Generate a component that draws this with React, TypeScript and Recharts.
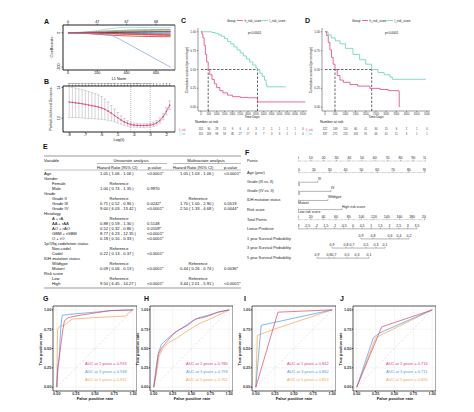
import React from "react";
import {
  LineChart,
  ComposedChart,
  Line,
  Scatter,
  XAxis,
  YAxis,
  CartesianGrid,
  ReferenceLine,
  ReferenceArea,
  ErrorBar,
} from "recharts";

const FONT = "'Liberation Sans', Arial, Helvetica, sans-serif";
const RED = "#e0466e";
const GREEN = "#5fd6b2";
const BLUE = "#4aa0e4";
const ORANGE = "#f2a552";

// ---------- A: lasso coefficient paths ----------
const l1Norm = [0, 50, 100, 150, 200, 250, 300, 350, 400, 450, 500, 550, 600, 650, 700];
const dfAtL1 = [0, 200, 400, 600];
const dfLabels = ["0", "47", "67", "68"];
const coefBlue = [0, -2, -5, -8, -12, -17, -25, -55, -90, -125, -160, -195, -230, -265, -300];
const coefCyan = [0, 2, 5, 10, 18, 28, 38, 44, 46, 47, 46, 45, 44, 44, 43];
const coefGreen = [0, 1, 3, 6, 10, 14, 17, 20, 22, 24, 25, 26, 27, 28, 28];
const coefRed = [0, -1, -2, -4, -6, -8, -10, -12, -14, -16, -18, -20, -22, -24, -25];
const coefPink = [0, 1, 2, 4, 6, 8, 10, 12, 14, 16, 18, 20, 22, 23, 24];
const coefBlack = [0, 0, 1, 1, 2, 2, 3, 3, 4, 4, 5, 5, 6, 6, 6];
const coefYellow = [0, -1, -1, -2, -3, -5, -7, -9, -11, -13, -15, -16, -17, -18, -18];
const coefMagenta = [0, 0, -1, -2, -3, -4, -6, -8, -10, -12, -14, -15, -16, -17, -18];
const coefGray = [0, 1, 2, 3, 4, 6, 8, 10, 11, 12, 12, 12, 12, 12, 12];
const coefDarkRed = [0, -2, -5, -9, -14, -18, -22, -25, -28, -30, -32, -33, -34, -35, -35];
const coefGreen3 = [0, 0, 1, 2, 2, 3, 4, 5, 6, 7, 8, 9, 10, 11, 12];
const coefNavy = [0, 0, 0, -1, -1, -2, -3, -4, -5, -6, -7, -8, -9, -9, -10];

const coefPaths: [string, string, number[]][] = [
  ["cyan", "#8ecae6", coefCyan],
  ["green", "#4caf50", coefGreen],
  ["pink", "#f06292", coefPink],
  ["gray", "#9e9e9e", coefGray],
  ["green3", "#7cb342", coefGreen3],
  ["black", "#000000", coefBlack],
  ["navy", "#3949ab", coefNavy],
  ["yellow", "#fbc02d", coefYellow],
  ["magenta", "#d81b60", coefMagenta],
  ["red", "#e53935", coefRed],
  ["darkred", "#b71c1c", coefDarkRed],
  ["blue", "#7e9fd8", coefBlue],
];

const lassoData = l1Norm.map((x, i) => {
  const row: Record<string, number> = { x };
  coefPaths.forEach(([k, , v]) => (row[k] = v[i]));
  return row;
});

// ---------- B: cross-validated deviance ----------
const logLambda = [-8.0, -7.8, -7.6, -7.4, -7.2, -7.0, -6.8, -6.6, -6.4, -6.2, -6.0, -5.8, -5.6, -5.4, -5.2, -5.0, -4.8, -4.6, -4.4, -4.2, -4.0, -3.8, -3.6, -3.4, -3.2, -3.0, -2.8, -2.6, -2.4, -2.2, -2.0, -1.8];
const deviance = [13.05, 13.03, 13.0, 12.97, 12.94, 12.9, 12.86, 12.82, 12.78, 12.73, 12.67, 12.58, 12.46, 12.33, 12.18, 12.03, 11.88, 11.76, 11.66, 11.59, 11.55, 11.53, 11.52, 11.52, 11.53, 11.55, 11.6, 11.7, 11.85, 12.1, 12.45, 12.85];
const devianceErr = [1.0, 0.98, 0.96, 0.94, 0.92, 0.9, 0.88, 0.85, 0.82, 0.79, 0.75, 0.68, 0.6, 0.5, 0.42, 0.34, 0.27, 0.22, 0.18, 0.15, 0.13, 0.12, 0.12, 0.12, 0.12, 0.13, 0.14, 0.15, 0.17, 0.2, 0.24, 0.28];
const nonzeroCount = [68, 68, 68, 67, 67, 66, 66, 65, 64, 63, 61, 59, 57, 54, 50, 46, 41, 36, 33, 29, 26, 22, 19, 17, 13, 10, 8, 6, 4, 3, 2, 1];
const lambdaMin = -4.2;
const lambda1se = -3.0;

const cvData = logLambda.map((x, i) => ({ x, dev: deviance[i], err: devianceErr[i] }));

// ---------- C / D: Kaplan-Meier ----------
const kmTicksC = [0, 500, 1000, 1500, 2000, 2500, 3000, 3500, 4000, 4500, 5000, 5500, 6000, 6500];
const timeHighC = [0, 60, 120, 200, 280, 360, 460, 560, 700, 850, 1000, 1200, 1400, 1700, 2000, 2500, 3000, 3550, 3600, 6650];
const survHighC = [1, 0.97, 0.92, 0.82, 0.7, 0.6, 0.5, 0.43, 0.37, 0.31, 0.26, 0.22, 0.19, 0.16, 0.14, 0.13, 0.125, 0.12, 0.07, 0.07];
const timeLowC = [0, 500, 700, 900, 1100, 1300, 1500, 1700, 1900, 2100, 2300, 2500, 2700, 2900, 3100, 3300, 3500, 3600, 3750, 3900, 4050, 4150, 4200, 5400];
const survLowC = [1, 1, 0.99, 0.98, 0.96, 0.94, 0.91, 0.87, 0.84, 0.8, 0.76, 0.72, 0.68, 0.64, 0.6, 0.56, 0.52, 0.5, 0.45, 0.41, 0.36, 0.3, 0.27, 0.27];
const riskHighC = [352, 90, 28, 15, 9, 6, 4, 3, 2, 1, 1, 1, 1, 0];
const riskLowC = [351, 249, 99, 59, 38, 27, 17, 8, 7, 3, 3, 2, 1, 0];
const medianHighC = 460;
const medianLowC = 3600;

const kmTicksD = [0, 500, 1000, 1500, 2000, 2500, 3000, 3500, 4000, 4500, 5000];
const timeHighD = [0, 80, 160, 240, 320, 400, 490, 600, 735, 900, 1225, 1600, 2200, 2700, 3100, 3630, 3640];
const survHighD = [1, 0.95, 0.86, 0.76, 0.66, 0.57, 0.5, 0.42, 0.36, 0.33, 0.3, 0.28, 0.25, 0.235, 0.22, 0.2, 0.0];
const timeLowD = [0, 150, 300, 500, 735, 1000, 1370, 1700, 2000, 2290, 2600, 2900, 3190, 3300, 4950];
const survLowD = [1, 0.96, 0.92, 0.88, 0.84, 0.78, 0.7, 0.63, 0.57, 0.5, 0.46, 0.43, 0.4, 0.37, 0.37];
const riskHighD = [322, 169, 110, 66, 41, 30, 15, 6, 2, 1, 0];
const riskLowD = [337, 271, 213, 158, 91, 66, 41, 11, 3, 1, 1];
const medianHighD = 490;
const medianLowD = 2290;

const survTicks = [0, 0.25, 0.5, 0.75, 1];

// ---------- E: Cox regression table ----------
const tableVars = ["Age", "Gender", "Female", "Male", "Grade", "Grade II", "Grade III", "Grade IV", "Histology", "A + rA", "AA + rAA", "AO + rAO", "GBM + rGBM", "O + rO", "1p/19q codeletion status", "Non-codel", "Codel", "IDH mutation status", "Wildtype", "Mutant", "Risk score", "Low", "High"];
const tableIndent = [0, 0, 1, 1, 0, 1, 1, 1, 0, 1, 1, 1, 1, 1, 0, 1, 1, 0, 1, 1, 0, 1, 1];
const uniHR = ["1.05 ( 1.06 - 1.06 )", "", "Reference", "1.00 ( 0.74 - 1.35 )", "", "Reference", "0.71 ( 0.52 - 0.96 )", "9.00 ( 6.03 - 13.42 )", "", "Reference", "0.88 ( 0.59 - 1.30 )", "0.52 ( 0.32 - 0.86 )", "8.77 ( 6.23 - 12.35 )", "0.18 ( 0.10 - 0.33 )", "", "Reference", "0.22 ( 0.13 - 0.37 )", "", "Reference", "0.09 ( 0.06 - 0.13 )", "", "Reference", "9.50 ( 6.45 - 14.27 )"];
const uniP = ["<0.0001*", "", "", "0.9970", "", "", "0.0242*", "<0.0001*", "", "", "0.5148", "0.0109*", "<0.0001*", "<0.0001*", "", "", "<0.0001*", "", "", "<0.0001*", "", "", "<0.0001*"];
const multiHR = ["1.05 ( 1.03 - 1.06 )", "", "", "", "", "Reference", "1.70 ( 1.00 - 2.90 )", "2.50 ( 1.33 - 4.68 )", "", "", "", "", "", "", "", "", "", "", "Reference", "0.44 ( 0.26 - 0.74 )", "", "Reference", "3.44 ( 2.01 - 5.91 )"];
const multiP = ["<0.0001*", "", "", "", "", "", "0.0519", "0.0044*", "", "", "", "", "", "", "", "", "", "", "", "0.0036*", "", "", "<0.0001*"];

// ---------- F: nomogram ----------
const nomoRows = ["Points", "Age (year)", "Grade (III vs. II)", "Grade (IV vs. II)", "IDH mutation status", "Risk score", "Total Points", "Linear Predictor", "1 year Survival Probability", "3 year Survival Probability", "5 year Survival Probability"];
const nomoRowY = [0, 1.2, 2.2, 3.15, 4.1, 5.05, 6.1, 7.05, 8.1, 9.05, 10.1];
const pointsValues = [0, 10, 20, 30, 40, 50, 60, 70, 80, 90, 100];
const ageValues = [10, 20, 30, 40, 50, 60, 70, 80, 90];
const agePointsPerYear = 99 / 80;
const gradeIIIPoints = 15.6;
const gradeIVPoints = 25.8;
const idhWildtypePoints = 23.4;
const highRiskPoints = 34.4;
const totalValues = [0, 20, 40, 60, 80, 100, 120, 140, 160, 180, 200];
const totalScale = 0.495;
const lpValues = [-3, -2.5, -2, -1.5, -1, -0.5, 0, 0.5, 1, 1.5, 2, 2.5, 3, 3.5];
const lpScale = 14.3;
const surv1Labels = ["0.9", "0.8", "0.6", "0.4", "0.2"];
const surv1Pos = [49.2, 58.6, 71.9, 78.9, 86.7];
const surv3Labels = ["0.9", "0.8", "0.7", "0.5", "0.3", "0.1"];
const surv3Pos = [26.6, 37.5, 42.2, 53.1, 60.9, 68];
const surv5Labels = ["0.9", "0.8", "0.7", "0.5", "0.3", "0.1"];
const surv5Pos = [14.8, 24.2, 28.1, 38.3, 46.1, 55.5];

// ---------- G-J: time-dependent ROC ----------
const rocTicks = [0, 0.25, 0.5, 0.75, 1];
const rocG1 = [[0, 0], [0.005, 0.1], [0.02, 0.3], [0.04, 0.45], [0.06, 0.6], [0.08, 0.75], [0.1, 0.86], [0.15, 0.9], [0.3, 0.93], [0.5, 0.96], [0.7, 0.99], [1, 1]];
const rocG3 = [[0, 0], [0.01, 0.25], [0.03, 0.35], [0.05, 0.75], [0.07, 0.93], [0.25, 0.95], [0.5, 0.97], [0.7, 0.99], [1, 1]];
const rocG5 = [[0, 0], [0.01, 0.75], [0.04, 0.79], [0.1, 0.8], [0.2, 0.88], [0.5, 0.9], [0.9, 0.92], [0.95, 0.97], [1, 1]];
const rocH1 = [[0, 0], [0.03, 0.2], [0.06, 0.42], [0.1, 0.5], [0.15, 0.56], [0.2, 0.62], [0.27, 0.7], [0.35, 0.75], [0.45, 0.8], [0.55, 0.88], [0.65, 0.9], [0.75, 0.93], [0.85, 0.97], [1, 1]];
const rocH3 = [[0, 0], [0.03, 0.25], [0.06, 0.44], [0.1, 0.55], [0.15, 0.6], [0.22, 0.66], [0.3, 0.72], [0.4, 0.78], [0.5, 0.85], [0.6, 0.9], [0.72, 0.93], [0.85, 0.97], [1, 1]];
const rocH5 = [[0, 0], [0.04, 0.2], [0.07, 0.4], [0.12, 0.5], [0.2, 0.58], [0.3, 0.63], [0.4, 0.7], [0.5, 0.76], [0.6, 0.82], [0.72, 0.87], [0.85, 0.93], [1, 1]];
const rocI1 = [[0, 0], [0.29, 0.97], [1, 1]];
const rocI3 = [[0, 0], [0.07, 0.8], [1, 1]];
const rocI5 = [[0, 0], [0.02, 0.67], [0.3, 0.77], [1, 1]];
const rocJ1 = [[0, 0], [0.33, 0.78], [1, 1]];
const rocJ3 = [[0, 0], [0.22, 0.64], [0.3, 0.7], [1, 1]];
const rocJ5 = [[0, 0], [0.25, 0.64], [1, 1]];
const aucG = ["0.933", "0.948", "0.911"];
const aucH = ["0.780", "0.793", "0.762"];
const aucI = ["0.842", "0.862", "0.813"];
const aucJ = ["0.716", "0.711", "0.690"];
const aucYears = [1, 3, 5];
const rocColors = [RED, BLUE, ORANGE];
const diagonal = [[0, 0], [1, 1]];

const toXY = (t: number[], s: number[]) => t.map((v, i) => ({ t: v, s: s[i] }));
const toRoc = (pts: number[][]) => pts.map(([fpr, tpr]) => ({ fpr, tpr }));

const RotTick = (props: any) => {
  const { x, y, payload } = props;
  return (
    <text x={x} y={y} transform={`rotate(-90 ${x} ${y})`} textAnchor="middle" fontSize={3.6} fill="#000" fontFamily={FONT}>
      {payload.value}
    </text>
  );
};

function LassoPaths() {
  return (
    <div style={{ position: "absolute", left: 40, top: 10 }}>
      <LineChart width={140} height={75} data={lassoData} margin={{ top: 0, right: 5, bottom: 0, left: 0 }}>
        <XAxis xAxisId="b" dataKey="x" type="number" domain={[-34, 730]} ticks={[0, 200, 400, 600]} height={15} tickSize={1.5} tickMargin={0} tick={{ fontSize: 3.6, fill: "#000" }} stroke="#000" strokeWidth={0.5} />
        <XAxis xAxisId="t" orientation="top" dataKey="x" type="number" domain={[-34, 730]} ticks={dfAtL1} tickFormatter={(v: number) => dfLabels[dfAtL1.indexOf(v)]} height={15} tickSize={1.5} tickMargin={0.5} tick={{ fontSize: 3.6, fill: "#000" }} stroke="#000" strokeWidth={0.5} />
        <YAxis type="number" domain={[-325, 67]} ticks={[50, 0, -100, -200, -300]} width={23} tickSize={1.5} tickMargin={1} tick={<RotTick />} stroke="#000" strokeWidth={0.5} />
        <ReferenceArea xAxisId="b" x1={-34} x2={730} y1={-325} y2={67} fill="none" stroke="#000" strokeWidth={0.5} ifOverflow="visible" />
        {coefPaths.map(([k, color]) => (
          <Line key={k} xAxisId="b" dataKey={k} stroke={color} strokeWidth={0.7} dot={false} isAnimationActive={false} type="linear" />
        ))}
      </LineChart>
    </div>
  );
}

function LassoCV() {
  return (
    <div style={{ position: "absolute", left: 40, top: 71 }}>
      <LineChart width={140} height={76} data={cvData} margin={{ top: 0, right: 5, bottom: 0, left: 0 }}>
        <XAxis xAxisId="b" dataKey="x" type="number" domain={[-8.38, -1.47]} ticks={[-8, -7, -6, -5, -4, -3, -2]} height={15} tickSize={1.5} tickMargin={0} tick={{ fontSize: 3.6, fill: "#000" }} stroke="#000" strokeWidth={0.5} />
        <XAxis xAxisId="t" orientation="top" dataKey="x" type="number" domain={[-8.38, -1.47]} ticks={logLambda} interval={0} tickFormatter={(v: number) => String(nonzeroCount[logLambda.indexOf(v)])} height={15} tickSize={1.5} tickMargin={0.5} tick={{ fontSize: 2.5, fill: "#000" }} stroke="#000" strokeWidth={0.5} />
        <YAxis type="number" domain={[11.1, 14.1]} ticks={[11.5, 12, 12.5, 13, 13.5, 14]} tickFormatter={(v: number) => v.toFixed(1)} width={23} tickSize={1.5} tickMargin={1} tick={<RotTick />} stroke="#000" strokeWidth={0.5} />
        <ReferenceArea xAxisId="b" x1={-8.38} x2={-1.47} y1={11.1} y2={14.1} fill="none" stroke="#000" strokeWidth={0.5} ifOverflow="visible" />
        <ReferenceLine xAxisId="b" x={lambdaMin} stroke="#777" strokeWidth={0.5} strokeDasharray="1 1" />
        <ReferenceLine xAxisId="b" x={lambda1se} stroke="#777" strokeWidth={0.5} strokeDasharray="1 1" />
        <Line xAxisId="b" dataKey="dev" stroke={RED} strokeWidth={0.8} dot={{ r: 0.8, fill: RED, stroke: "none" }} isAnimationActive={false}>
          <ErrorBar dataKey="err" direction="y" width={1.4} stroke="#aaa" strokeWidth={0.5} />
        </Line>
      </LineChart>
    </div>
  );
}

type KMProps = {
  left: number;
  width: number;
  domain: [number, number];
  ticks: number[];
  high: { t: number; s: number }[];
  low: { t: number; s: number }[];
  medianHigh: number;
  medianLow: number;
  riskHigh: number[];
  riskLow: number[];
};

function KMPanel({ left, width, domain, ticks, high, low, medianHigh, medianLow, riskHigh, riskLow }: KMProps) {
  const riskRows = [
    ...ticks.map((t, i) => ({ t, row: 0, n: riskHigh[i] })),
    ...ticks.map((t, i) => ({ t, row: 1, n: riskLow[i] })),
  ];
  const dash = "2.5 1.5";
  return (
    <>
      <div style={{ position: "absolute", left, top: 20 }}>
        <LineChart width={width} height={99} margin={{ top: 8, right: 0, bottom: 0, left: 0 }}>
          <XAxis dataKey="t" type="number" domain={domain} ticks={ticks} interval={0} allowDataOverflow height={8} tickSize={1.2} tickMargin={0.5} tick={{ fontSize: 2.6, fill: "#333" }} stroke="#000" strokeWidth={0.4} />
          <YAxis type="number" domain={[-0.05, 1.05]} ticks={survTicks} tickFormatter={(v: number) => v.toFixed(2)} width={20} tickSize={1.2} tickMargin={0.8} tick={{ fontSize: 3, fill: "#333" }} stroke="#000" strokeWidth={0.4} />
          <ReferenceLine segment={[{ x: 0, y: 0.5 }, { x: medianLow, y: 0.5 }]} stroke="#000" strokeWidth={0.6} strokeDasharray={dash} />
          <ReferenceLine segment={[{ x: medianHigh, y: -0.05 }, { x: medianHigh, y: 0.5 }]} stroke="#000" strokeWidth={0.6} strokeDasharray={dash} />
          <ReferenceLine segment={[{ x: medianLow, y: -0.05 }, { x: medianLow, y: 0.5 }]} stroke="#000" strokeWidth={0.6} strokeDasharray={dash} />
          <Line data={low} dataKey="s" type="stepAfter" stroke={GREEN} strokeWidth={0.8} dot={false} isAnimationActive={false} />
          <Line data={high} dataKey="s" type="stepAfter" stroke={RED} strokeWidth={0.8} dot={false} isAnimationActive={false} />
        </LineChart>
      </div>
      <div style={{ position: "absolute", left, top: 126 }}>
        <ComposedChart width={width} height={12} margin={{ top: 0, right: 0, bottom: 0, left: 20 }}>
          <XAxis dataKey="t" type="number" domain={domain} hide allowDataOverflow />
          <YAxis dataKey="row" type="number" domain={[-0.9, 1.9]} reversed hide />
          <Scatter
            data={riskRows}
            isAnimationActive={false}
            shape={(p: any) => (
              <text x={p.cx} y={p.cy} fontSize={2.6} textAnchor="middle" dominantBaseline="central" fill="#333" fontFamily={FONT}>
                {p.payload.n}
              </text>
            )}
          />
        </ComposedChart>
      </div>
    </>
  );
}

type NomoTick = { x: number; y: number; label: string; below?: boolean; anchor?: string };

function nomoTicks(row: number, pos: number[], labels: string[]): NomoTick[] {
  return pos.map((x, i) => ({ x, y: nomoRowY[row], label: labels[i] }));
}

function Nomogram() {
  const rows: NomoTick[][] = [
    nomoTicks(0, pointsValues, pointsValues.map(String)),
    nomoTicks(1, ageValues.map((a) => (a - 10) * agePointsPerYear), ageValues.map(String)),
    [
      { x: 0, y: nomoRowY[2], label: "II", below: true, anchor: "start" },
      { x: gradeIIIPoints, y: nomoRowY[2], label: "III", anchor: "start" },
    ],
    [
      { x: 0, y: nomoRowY[3], label: "II", below: true, anchor: "start" },
      { x: gradeIVPoints, y: nomoRowY[3], label: "IV", anchor: "start" },
    ],
    [
      { x: 0, y: nomoRowY[4], label: "Mutant", below: true, anchor: "start" },
      { x: idhWildtypePoints, y: nomoRowY[4], label: "Wildtype", anchor: "start" },
    ],
    [
      { x: 0, y: nomoRowY[5], label: "Low risk score", below: true, anchor: "start" },
      { x: highRiskPoints, y: nomoRowY[5], label: "High risk score", anchor: "start" },
    ],
    nomoTicks(6, totalValues.map((t) => t * totalScale), totalValues.map(String)),
    nomoTicks(7, lpValues.map((v) => (v + 3) * lpScale), lpValues.map(String)),
    nomoTicks(8, surv1Pos, surv1Labels),
    nomoTicks(9, surv3Pos, surv3Labels),
    nomoTicks(10, surv5Pos, surv5Labels),
  ];
  const dotted = [0, 1, 6];
  return (
    <div style={{ position: "absolute", left: 242, top: 150 }}>
      <ComposedChart width={196} height={112} margin={{ top: 0, right: 12, bottom: 0, left: 0 }}>
        <XAxis dataKey="x" type="number" domain={[0, 100]} hide allowDataOverflow />
        <YAxis
          dataKey="y"
          type="number"
          domain={[-1.15, 10.5]}
          reversed
          width={56}
          ticks={nomoRowY}
          interval={0}
          axisLine={false}
          tickLine={false}
          tickSize={0}
          tickMargin={0}
          tick={(p: any) => (
            <text x={p.x - 51} y={p.y} fontSize={3.8} textAnchor="start" dominantBaseline="central" fill="#222" fontFamily={FONT}>
              {nomoRows[nomoRowY.indexOf(p.payload.value)]}
            </text>
          )}
        />
        {rows.map((r, i) => (
          <ReferenceLine
            key={"l" + i}
            segment={[
              { x: r[0].x, y: r[0].y },
              { x: r[r.length - 1].x, y: r[0].y },
            ]}
            stroke="#444"
            strokeWidth={0.4}
            strokeDasharray={dotted.includes(i) ? "0.6 0.6" : undefined}
            ifOverflow="visible"
          />
        ))}
        {rows.map((r, i) => (
          <Scatter
            key={"s" + i}
            data={r}
            isAnimationActive={false}
            shape={(p: any) => {
              const d = p.payload as NomoTick;
              return (
                <g>
                  <line x1={p.cx} x2={p.cx} y1={p.cy} y2={p.cy - 1.4} stroke="#444" strokeWidth={0.4} />
                  <text x={p.cx} y={d.below ? p.cy + 2.4 : p.cy - 3} fontSize={3.5} textAnchor={d.anchor ?? "middle"} dominantBaseline="central" fill="#222" fontFamily={FONT}>
                    {d.label}
                  </text>
                </g>
              );
            }}
          />
        ))}
      </ComposedChart>
    </div>
  );
}

function RocPanel({ left, width, curves }: { left: number; width: number; curves: number[][][] }) {
  return (
    <div style={{ position: "absolute", left, top: 300 }}>
      <LineChart width={width} height={99} margin={{ top: 6, right: 0, bottom: 0, left: 0 }}>
        <CartesianGrid stroke="#ebebeb" strokeWidth={0.5} />
        <XAxis dataKey="fpr" type="number" domain={[-0.05, 1.05]} ticks={rocTicks} interval={0} allowDataOverflow tickFormatter={(v: number) => v.toFixed(2)} height={8} tickSize={1.2} tickMargin={0.3} tick={{ fontSize: 3.8, fontWeight: 700, fill: "#333" }} axisLine={false} stroke="#333" />
        <YAxis type="number" domain={[-0.05, 1.05]} ticks={rocTicks} interval={0} allowDataOverflow tickFormatter={(v: number) => v.toFixed(2)} width={23} tickSize={1.2} tickMargin={0.5} tick={{ fontSize: 3.8, fontWeight: 700, fill: "#333" }} axisLine={false} stroke="#333" />
        <Line data={toRoc(diagonal)} dataKey="tpr" stroke="#cfcfcf" strokeWidth={0.6} strokeDasharray="2 2" dot={false} isAnimationActive={false} />
        {[2, 1, 0].map((k) => (
          <Line key={k} data={toRoc(curves[k])} dataKey="tpr" stroke={rocColors[k]} strokeWidth={0.8} strokeOpacity={0.9} dot={false} isAnimationActive={false} />
        ))}
        <ReferenceArea x1={-0.05} x2={1.05} y1={-0.05} y2={1.05} fill="none" stroke="#333" strokeWidth={0.8} ifOverflow="visible" />
      </LineChart>
    </div>
  );
}

const T = ({ x, y, s = 4, a = "start", w = 400, c = "#111", r = false, children }: any) => (
  <text x={x} y={y} fontSize={s} textAnchor={a} fontWeight={w} fill={c} dominantBaseline="central" fontFamily={FONT} transform={r ? `rotate(-90 ${x} ${y})` : undefined}>
    {children}
  </text>
);

function KMTexts({ dx, yLabelX }: { dx: number; yLabelX: number }) {
  return (
    <g>
      <T x={yLabelX} y={70} s={3.2} a="middle" r>Cumulative survival (percentage)</T>
      <T x={227 + dx} y={20.5} s={3}>Group</T>
      <line x1={237 + dx} x2={243 + dx} y1={20.5} y2={20.5} stroke={RED} strokeWidth={0.8} />
      <T x={244.5 + dx} y={20.5} s={3}>h_risk_score</T>
      <line x1={262 + dx} x2={268 + dx} y1={20.5} y2={20.5} stroke={GREEN} strokeWidth={0.8} />
      <T x={269.5 + dx} y={20.5} s={3}>l_risk_score</T>
    </g>
  );
}

function Overlay() {
  const rowY = (i: number) => 173 + i * 5;
  return (
    <svg width={474} height={412} style={{ position: "absolute", left: 0, top: 0, pointerEvents: "none" }}>
      {/* panel letters */}
      <T x={44} y={21} s={7} w={700}>A</T>
      <T x={44} y={81} s={7} w={700}>B</T>
      <T x={181} y={20} s={7} w={700}>C</T>
      <T x={305} y={20} s={7} w={700}>D</T>
      <T x={43} y={146} s={7} w={700}>E</T>
      <T x={245} y={152} s={7} w={700}>F</T>
      <T x={43} y={298} s={7} w={700}>G</T>
      <T x={144} y={298} s={7} w={700}>H</T>
      <T x={244} y={298} s={7} w={700}>I</T>
      <T x={340} y={298} s={7} w={700}>J</T>

      {/* A, B axis titles */}
      <T x={119} y={78.5} s={3.8} a="middle">L1 Norm</T>
      <T x={51} y={47} s={4} a="middle" r>Coefficients</T>
      <T x={119} y={139.5} s={3.8} a="middle">Log(λ)</T>
      <T x={51} y={109} s={3.6} a="middle" r>Partial Likelihood Deviance</T>

      {/* C, D */}
      <KMTexts dx={0} yLabelX={187} />
      <KMTexts dx={125} yLabelX={311} />
      <T x={248} y={33} s={3.2}>p&lt;0.0001</T>
      <T x={385} y={33} s={3.2}>p&lt;0.0001</T>
      <T x={252} y={116.5} s={3.2} a="middle">Time Days</T>
      <T x={376} y={116.5} s={3.2} a="middle">Time Days</T>
      <T x={195} y={122} s={3.6}>Number at risk</T>
      <T x={320} y={122} s={3.6}>Number at risk</T>
      <T x={179} y={130} s={2.6} c={RED}>h_risk</T>
      <T x={179} y={134} s={2.6} c={GREEN}>l_risk</T>
      <T x={306} y={130} s={2.6} c={RED}>h_risk</T>
      <T x={306} y={134} s={2.6} c={GREEN}>l_risk</T>

      {/* E: table */}
      <line x1={44} x2={241} y1={156} y2={156} stroke="#555" strokeWidth={0.6} />
      <T x={44} y={160} s={4.2}>Variable</T>
      <T x={131} y={160} s={4.2} a="middle">Univariate analysis</T>
      <T x={206} y={160} s={4.2} a="middle">Multivariate analysis</T>
      <line x1={97} x2={167} y1={163.5} y2={163.5} stroke="#555" strokeWidth={0.4} />
      <line x1={173} x2={241} y1={163.5} y2={163.5} stroke="#555" strokeWidth={0.4} />
      <T x={97} y={167} s={4}>Hazard Ratio (95% CI)</T>
      <T x={148} y={167} s={4}>p-value</T>
      <T x={173} y={167} s={4}>Hazard Ratio (95% CI)</T>
      <T x={224} y={167} s={4}>p-value</T>
      <line x1={44} x2={241} y1={170} y2={170} stroke="#555" strokeWidth={0.4} />
      {tableVars.map((v, i) => (
        <g key={v}>
          <T x={tableIndent[i] ? 52 : 44} y={rowY(i)} s={4.1}>{v}</T>
          {uniHR[i] === "Reference" ? (
            <T x={119} y={rowY(i)} s={4.1} a="middle">Reference</T>
          ) : (
            <T x={100} y={rowY(i)} s={4.1}>{uniHR[i]}</T>
          )}
          <T x={147} y={rowY(i)} s={4.1}>{uniP[i]}</T>
          {multiHR[i] === "Reference" ? (
            <T x={198} y={rowY(i)} s={4.1} a="middle">Reference</T>
          ) : (
            <T x={180} y={rowY(i)} s={4.1}>{multiHR[i]}</T>
          )}
          <T x={224} y={rowY(i)} s={4.1}>{multiP[i]}</T>
        </g>
      ))}
      <line x1={44} x2={241} y1={288} y2={288} stroke="#555" strokeWidth={0.6} />

      {/* G-J titles and AUC labels */}
      {[
        [30, aucG, 85],
        [127, aucH, 186],
        [229, aucI, 287],
        [330, aucJ, 386],
      ].map(([left, auc, tx]: any) => (
        <g key={left}>
          <T x={left + 10} y={349} s={4} w={700} a="middle" r>True positive rate</T>
          <T x={left + 23 + 42} y={398.5} s={4.2} w={700} a="middle">False positive rate</T>
          {aucYears.map((yr, k) => (
            <T key={yr} x={tx} y={363.5 + k * 8} s={4} c={rocColors[k]}>{`AUC at ${yr} years = ${auc[k]}`}</T>
          ))}
        </g>
      ))}
    </svg>
  );
}

export default function App() {
  return (
    <div style={{ position: "absolute", left: 0, top: 0, width: 474, height: 412, background: "#fff", overflow: "hidden", fontFamily: FONT }}>
      <LassoPaths />
      <LassoCV />
      <KMPanel left={178} width={129} domain={[-190, 6755]} ticks={kmTicksC} high={toXY(timeHighC, survHighC)} low={toXY(timeLowC, survLowC)} medianHigh={medianHighC} medianLow={medianLowC} riskHigh={riskHighC} riskLow={riskLowC} />
      <KMPanel left={302} width={128} domain={[-147, 5150]} ticks={kmTicksD} high={toXY(timeHighD, survHighD)} low={toXY(timeLowD, survLowD)} medianHigh={medianHighD} medianLow={medianLowD} riskHigh={riskHighD} riskLow={riskLowD} />
      <Nomogram />
      <RocPanel left={30} width={107} curves={[rocG1, rocG3, rocG5]} />
      <RocPanel left={127} width={106} curves={[rocH1, rocH3, rocH5]} />
      <RocPanel left={229} width={107} curves={[rocI1, rocI3, rocI5]} />
      <RocPanel left={330} width={106} curves={[rocJ1, rocJ3, rocJ5]} />
      <Overlay />
    </div>
  );
}
